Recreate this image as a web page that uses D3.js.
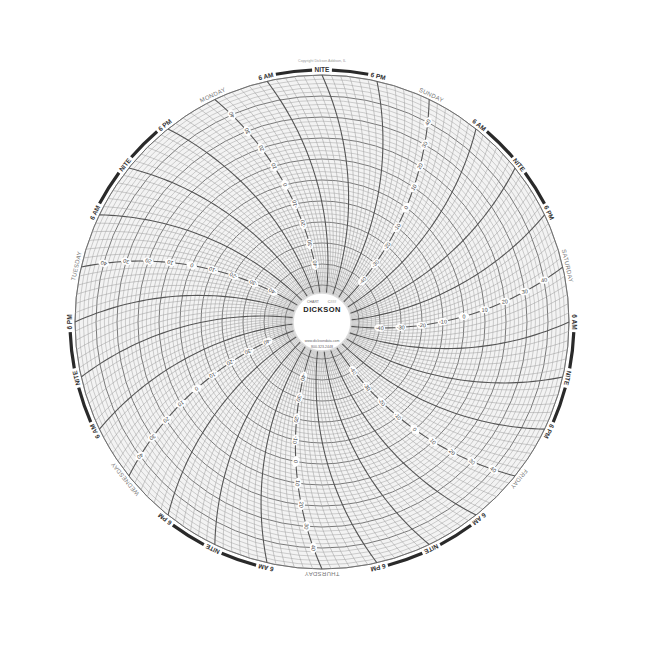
<!DOCTYPE html>
<html><head><meta charset="utf-8">
<script src="https://cdn.jsdelivr.net/npm/d3@7"></script>
<style>html,body{margin:0;padding:0;background:#fff}svg{display:block}</style>
</head><body><svg id="c" width="650" height="650"></svg>
<script>
// ---- data ----
const days = ["MONDAY","TUESDAY","WEDNESDAY","THURSDAY","FRIDAY","SATURDAY","SUNDAY"];
const ringMarkHours = [0, 6, 18];
const ringMarkLabels = ["NITE", "6 AM", "6 PM"];
const scaleLabels = [-40, -30, -20, -10, 0, 10, 20, 30, 40];
const valueDomain = [-50, 50];
const hoursTotal = 168;
const hubLines = ["CHART", "C###"];
const hubFooter = ["www.dicksondata.com", "800-323-2448"];

// ---- geometry ----
const cx = 322, cy = 322, rHub = 29, rIn = 37, rOut = 247, rRing = 252, Ra = 300;
const svg = d3.select("#c");
const g = svg.append("g").attr("transform", `translate(${cx},${cy})`);
const rScale = d3.scaleLinear().domain(valueDomain).range([rIn, rOut]);
const tScale = d3.scaleLinear().domain([0, hoursTotal]).range([0, -360]);
const deg = Math.PI / 180;
const bend = r => (Math.acos(r / (2 * Ra)) - Math.acos(rOut / (2 * Ra))) / deg;
const thetaAt = (h, r) => tScale(h) + bend(r);
const pt = (th, r) => [r * Math.sin(th * deg), -r * Math.cos(th * deg)];

// grid disk
g.append("circle").attr("r", rOut).attr("fill", "#f3f3f3").attr("stroke", "#888").attr("stroke-width", 0.8);

// concentric circles
const minorVals = rScale.ticks(50);
g.append("g").selectAll("circle").data(minorVals.filter(v => v % 10 !== 0)).join("circle")
  .attr("r", d => rScale(d)).attr("fill", "none").attr("stroke", "#a8a8a8").attr("stroke-width", 0.55);
g.append("g").selectAll("circle").data(rScale.ticks(10)).join("circle")
  .attr("r", d => rScale(d)).attr("fill", "none").attr("stroke", "#6a6a6a").attr("stroke-width", 0.9);

// time lines
const rSamples = d3.range(rHub, rOut + 0.01, (rOut - rHub) / 40);
const line = d3.line();
const timePath = h => line(rSamples.map(r => pt(thetaAt(h, r), r)));
const hours = d3.range(0, hoursTotal, 1);
g.append("g").selectAll("path").data(hours.filter(h => h % 6 !== 0)).join("path")
  .attr("d", timePath).attr("fill", "none").attr("stroke", "#a0a0a0").attr("stroke-width", 0.55);
g.append("g").selectAll("path").data(hours.filter(h => h % 6 === 0)).join("path")
  .attr("d", timePath).attr("fill", "none").attr("stroke", "#555").attr("stroke-width", 1.1);

// scale labels along each day's noon line
const lbl = g.append("g");
days.forEach((d, i) => {
  const h = i * 24 + 12;
  scaleLabels.forEach(v => {
    const r = rScale(v), th = thetaAt(h, r), p = pt(th, r);
    const gg = lbl.append("g").attr("transform", `translate(${p[0]},${p[1]}) rotate(${th - 90})`);
    gg.append("ellipse").attr("rx", 5.5).attr("ry", 3.6).attr("fill", "#fff");
    gg.append("text").text(v).attr("text-anchor", "middle").attr("dy", "0.35em")
      .attr("font-family", "Liberation Sans, Arial, sans-serif").attr("font-size", 5.5)
      .attr("fill", "#444");
  });
});

// outer ring: day names, NITE / 6 AM / 6 PM, night bars
const ring = g.append("g").attr("font-family", "Liberation Sans, Arial, sans-serif");
const widths = {};
days.forEach((d, i) => {
  const th = tScale(i * 24 + 12);
  ring.append("text").text(d).attr("transform", `rotate(${th}) translate(0,${-rRing})`)
    .attr("text-anchor", "middle").attr("dy", "0.35em").attr("font-size", 6)
    .attr("letter-spacing", 0.3).attr("fill", "#777");
  ringMarkHours.forEach((mh, j) => {
    const hh = i * 24 + mh;
    const t = ring.append("text").text(ringMarkLabels[j])
      .attr("transform", `rotate(${tScale(hh)}) translate(0,${-rRing})`)
      .attr("text-anchor", "middle").attr("dy", "0.35em").attr("font-size", 6.5)
      .attr("font-weight", "bold").attr("fill", "#333");
    widths[ringMarkLabels[j]] = t.node().getComputedTextLength();
  });
});
const arc = d3.arc().innerRadius(rRing - 1.6).outerRadius(rRing + 1.6);
days.forEach((d, i) => {
  const m = i * 24;
  const gapN = (widths["NITE"] / 2 + 2.5) / rRing, gapA = (widths["6 AM"] / 2 + 2.5) / rRing, gapP = (widths["6 PM"] / 2 + 2.5) / rRing;
  // NITE -> 6 AM (counter-clockwise)
  const a0 = tScale(m) * deg, a1 = tScale(m + 6) * deg, a2 = tScale(m - 6) * deg;
  ring.append("path").attr("d", arc({startAngle: a1 + gapA, endAngle: a0 - gapN})).attr("fill", "#2a2a2a");
  ring.append("path").attr("d", arc({startAngle: a0 + gapN, endAngle: a2 - gapP})).attr("fill", "#2a2a2a");
});
ring.append("text").text("Copyright Dickson  Addison, IL").attr("transform", `translate(0,${-rRing - 8})`)
  .attr("text-anchor", "middle").attr("font-size", 3.6).attr("fill", "#999");

// hub
const hub = g.append("g").attr("font-family", "Liberation Sans, Arial, sans-serif");
hub.append("circle").attr("r", rHub).attr("fill", "#fff").attr("stroke", "#ddd").attr("stroke-width", 1.5);
hub.append("text").text(hubLines[0]).attr("x", -9).attr("y", -19).attr("text-anchor", "middle").attr("font-size", 3.5).attr("fill", "#666");
hub.append("text").text(hubLines[1]).attr("x", 10).attr("y", -19).attr("text-anchor", "middle").attr("font-size", 3.5).attr("fill", "#666");
hub.append("text").text("DICKSON").attr("y", -10).attr("text-anchor", "middle").attr("font-size", 7.5)
  .attr("font-weight", "bold").attr("fill", "#222").attr("letter-spacing", 0.4);
hub.append("text").text(hubFooter[0]).attr("y", 20).attr("text-anchor", "middle").attr("font-size", 3.5).attr("fill", "#666");
hub.append("text").text(hubFooter[1]).attr("y", 26).attr("text-anchor", "middle").attr("font-size", 3.5).attr("fill", "#666");
</script></body></html>
